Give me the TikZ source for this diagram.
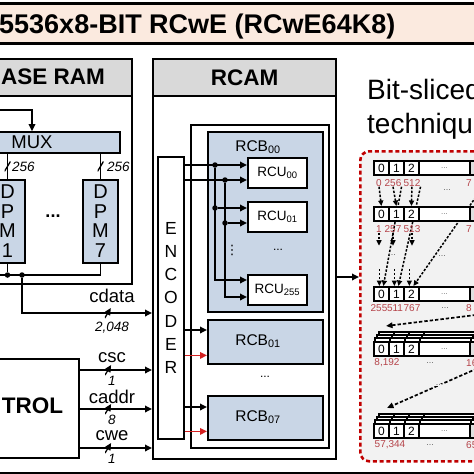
\documentclass[tikz,border=0pt]{standalone}
\usepackage{fontspec}
\setmainfont{Liberation Sans}
\newfontfamily\symfont{DejaVu Sans}
\usetikzlibrary{arrows.meta, positioning, calc}

\definecolor{titlepeach}{HTML}{FBEADF}
\definecolor{hdrgray}{HTML}{D9D9D9}
\definecolor{boxblue}{HTML}{C9D6E6}
\definecolor{slicered}{HTML}{C00000}
\definecolor{addrred}{HTML}{B5444A}
\definecolor{slicebg}{HTML}{F2F2F2}
\definecolor{sigred}{HTML}{D42020}

\newcommand{\fsz}[1]{\fontsize{#1}{#1}\selectfont}

\begin{document}
\begin{tikzpicture}[x=1pt, y=-1pt,
    frame/.style={draw, line width=3pt, inner sep=0pt},
    unitbox/.style={draw, line width=2.4pt, fill=white, inner sep=0pt},
    hdr/.style={draw, line width=2.4pt, fill=hdrgray, inner sep=0pt, font=\fsz{22.5}\bfseries},
    blk/.style={draw, line width=1.6pt, fill=boxblue, inner sep=0pt},
    rcu/.style={draw, line width=1.8pt, fill=white, inner sep=0pt, minimum width=59pt, minimum height=30pt, anchor=north west, font=\fsz{13.5}},
    rcb/.style={blk, line width=2.4pt, minimum width=115pt, anchor=north west},
    stack/.style={align=center, font=\fontsize{20}{19.5}\selectfont, inner sep=0pt},
    wire/.style={line width=1.7pt},
    sig/.style={wire, -{Triangle[length=7pt, width=6.5pt]}},
    dot/.style={circle, fill, inner sep=0pt, minimum size=5.5pt},
    busmark/.style={inner sep=0pt, minimum width=6pt, minimum height=10pt, path picture={\draw[line width=1.3pt] (path picture bounding box.south west) -- (path picture bounding box.north east);}},
    sigtext/.style={font=\fsz{18.5}, inner sep=0pt},
    bitsz/.style={font=\fsz{13.5}\itshape, inner sep=0pt},
    cell/.style={draw, line width=1.8pt, fill=white, inner sep=0pt, minimum width=15pt, minimum height=14pt, anchor=north west, font=\fsz{12}},
    layer/.style={draw, line width=1.4pt, fill=white},
    addr/.style={text=addrred, font=\fsz{10}, inner sep=0pt},
    slarr/.style={line width=1.5pt, dash pattern=on 2.4pt off 1.6pt, -{Triangle[length=5.5pt, width=5pt]}},
    farr/.style={line width=1.7pt, dash pattern=on 3.4pt off 2pt, -{Triangle[length=6.5pt, width=5.5pt]}},
    gdots/.style={text=black!60, font=\fsz{9}, inner sep=0pt}
  ]
\useasboundingbox (0,0) rectangle (474,474);
\begin{scope}
\clip (0,0) rectangle (474,474);

% title strip and outer frame
\node[frame, fill=titlepeach, minimum width=500pt, minimum height=40pt, anchor=north west] (titlebar) at (-13,2) {};
\node[font=\fsz{27}\bfseries, anchor=base west, inner sep=0pt] (title) at (-1,33) {5536x8-BIT RCwE (RCwE64K8)};
\node[frame, minimum width=500pt, minimum height=470pt, anchor=north west] (outer) at (-13,2) {};

% base RAM
\node[unitbox, minimum width=190pt, minimum height=225pt, anchor=north east] (baseram) at (133,58) {};
\node[hdr, minimum width=190pt, minimum height=37pt, anchor=north east] (basehdr) at (133,58) {};
\node[font=\fsz{22.5}\bfseries, inner sep=0pt] (basettl) at (53,77) {ASE RAM};
\node[blk, minimum width=176pt, minimum height=21pt, font=\fsz{18.5}] (mux) at (32,142.5) {MUX};
\node[blk, stack, minimum width=35pt, minimum height=83pt, anchor=north] (dpm1) at (7.5,179) {D\\P\\M\\1};
\node[blk, stack, minimum width=35pt, minimum height=83pt, anchor=north] (dpm7) at (100.5,179) {D\\P\\M\\7};
\node[font=\fsz{18}\bfseries, inner sep=0pt] (dpmdots) at (53,216) {...};

\coordinate (muxsrc) at (-13,110);
\draw[sig] (muxsrc) -| (mux.north);
\draw[wire] (mux.south -| dpm1) -- node[busmark] (bm1) {} (dpm1.north);
\draw[wire] (mux.south -| dpm7) -- node[busmark] (bm7) {} (dpm7.north);
\node[bitsz, anchor=west] (w1) at (12,167) {256};
\node[bitsz, anchor=west] (w7) at (107,167) {256};

\node[dot] (j1) at (7.5,275) {};
\node[dot] (j2) at (22,275) {};
\coordinate (busw) at (-13,275);
\draw[wire] (dpm1.south) -- (j1);
\draw[wire] (dpm7.south) |- (busw);
\coordinate (cdin) at (152,313);
\draw[sig] (j2) |- node[busmark, pos=0.83] (bmcd) {} (cdin);
\node[sigtext] (cdlbl) at (112,296) {cdata};
\node[bitsz] (cdw) at (112,328) {2,048};

% control
\node[unitbox, minimum width=100pt, minimum height=99pt, anchor=north east] (ctrl) at (80,358) {};
\node[font=\fsz{22.5}\bfseries, inner sep=0pt] (ctrlttl) at (32.5,405.5) {TROL};
\foreach \nm/\yy/\bits in {csc/370/1, caddr/409/8, cwe/448/1} {
  \coordinate (\nm src) at (80,\yy);
  \coordinate (\nm dst) at (152,\yy);
  \draw[sig] (\nm src) -- node[busmark, pos=0.39] {} (\nm dst);
  \node[sigtext] (\nm lbl) at (112,\yy-12.5) {\nm};
  \node[bitsz] (\nm w) at (112,\yy+10.5) {\bits};
}

% RCAM
\node[unitbox, minimum width=183pt, minimum height=400pt, anchor=north west] (rcam) at (152,58) {};
\node[hdr, minimum width=183pt, minimum height=37pt, anchor=north west] (rcamhdr) at (152,58) {RCAM};
\node[unitbox, minimum width=138pt, minimum height=323pt, anchor=north west] (rcbarr) at (190,124) {};
\node[draw, line width=1.8pt, fill=white, inner sep=0pt, minimum width=26pt, minimum height=282pt, anchor=north west, align=center, font=\fontsize{17.5}{23.2}\selectfont] (enc) at (157,156) {E\\N\\C\\O\\D\\E\\R};

\node[rcb, minimum height=180pt] (rcb0) at (207,131) {};
\node[font=\fsz{15.5}, inner sep=0pt] (rcb0ttl) at (258,147) {RCB\textsubscript{00}};
\node[rcu] (rcu0) at (247,157) {RCU\textsubscript{00}};
\node[rcu] (rcu1) at (247,201) {RCU\textsubscript{01}};
\node[rcu] (rcu255) at (247,274) {RCU\textsubscript{255}};
\node[font=\fsz{12}, inner sep=0pt] (rcudots) at (278,250) {...};
\node[font=\symfont\fsz{13}, inner sep=0pt] (rcuvdots) at (232,250) {⋮};

\node[rcb, minimum height=44pt] (rcb1) at (207,319) {};
\node[font=\fsz{15.5}, inner sep=0pt] (rcb1ttl) at (258,341) {RCB\textsubscript{01}};
\node[rcb, minimum height=44pt] (rcb7) at (207,395) {};
\node[font=\fsz{15.5}, inner sep=0pt] (rcb7ttl) at (258,417) {RCB\textsubscript{07}};
\node[font=\fsz{12}, inner sep=0pt] (rcbdots) at (265,377) {...};

% encoder to RCUs
\node[dot] (ta0) at (215,165) {};
\node[dot] (tb0) at (225,180) {};
\node[dot] (ta1) at (215,208) {};
\node[dot] (tb1) at (225,223) {};
\coordinate (ta2) at (215,280);
\coordinate (tb2) at (225,297);
\draw[sig] (enc.east |- ta0) -- (rcu0.west |- ta0);
\draw[sig] (enc.east |- tb0) -- (rcu0.west |- tb0);
\draw[sig] (ta1) -- (rcu1.west |- ta1);
\draw[sig] (tb1) -- (rcu1.west |- tb1);
\draw[sig] (ta0) |- (rcu255.west |- ta2);
\draw[sig] (tb0) |- (rcu255.west |- tb2);

% encoder to RCBs
\coordinate (k1) at ($(rcb1.north west)+(0,11)$);
\coordinate (r1) at ($(rcb1.south west)+(0,-10)$);
\coordinate (k7) at ($(rcb7.north west)+(0,12)$);
\coordinate (r7) at ($(rcb7.south west)+(0,-10)$);
\draw[sig] (enc.east |- k1) -- (k1);
\draw[sig, sigred] (enc.east |- r1) -- (r1);
\draw[sig] (enc.east |- k7) -- (k7);
\draw[sig, sigred] (enc.east |- r7) -- (r7);

% bit-sliced panel
\node[draw=slicered, fill=slicebg, line width=2.6pt, dash pattern=on 4pt off 2.8pt, rounded corners=9pt, minimum width=150pt, minimum height=310pt, anchor=north west] (slicebox) at (359,150) {};
\coordinate (rcamout) at (335,277);
\draw[sig] (rcamout) -- (slicebox.west |- rcamout);
\node[font=\fsz{28}, inner sep=0pt, anchor=base west] (bsttl) at (367,99) {Bit-sliced};
\node[font=\fsz{28}, inner sep=0pt, anchor=base west] (bsttl2) at (367,133) {technique};

\foreach \rw/\y in {D/341,E/423} {
  \foreach \k in {3,2,1} {
    \foreach \cx/\cw in {373/15,388/15,403/15,418/51,469/26} {
      \draw[layer] (\cx+2*\k,\y-3*\k) rectangle ++(\cw,14);
    }
  }
}
\foreach \rw/\y in {A/160,C/286,D/341,E/423} {
  \node[cell] (\rw0) at (373,\y) {0};
  \node[cell] (\rw1) at (388,\y) {1};
  \node[cell] (\rw2) at (403,\y) {2};
  \node[cell, minimum width=51pt] (\rw3) at (418,\y) {\textcolor{black!55}{\fsz{8}...}};
  \node[cell, minimum width=26pt, fill=black!12] (\rw4) at (469,\y) {};
}

\node[addr] (lA0) at (379,183) {0};
\node[addr] (lA1) at (393,183) {256};
\node[addr] (lA2) at (412,183) {512};
\node[addr, anchor=west] (lA4) at (466,183) {7};
\node[gdots] (gA3) at (447,190) {...};

\node[addr] (lC0) at (379,308) {255};
\node[addr] (lC1) at (395,308) {511};
\node[addr] (lC2) at (412,308) {767};
\node[gdots] (gC3) at (445,308) {...};
\node[addr, anchor=west] (lC4) at (466,308) {8};

\node[addr] (lD0) at (387,363) {8,192};
\node[gdots] (gD3) at (430,363) {...};
\node[addr, anchor=west] (lD4) at (466,363) {16};
\node[addr] (lE0) at (390,445) {57,344};
\node[gdots] (gE3) at (430,445) {...};
\node[addr, anchor=west] (lE4) at (466,445) {65};

% wrap-around lines, under row B
\coordinate (dC0) at ($(C0.north)+(2,0)$);
\coordinate (dC1) at ($(C1.north)+(2,0)$);
\coordinate (dC2) at ($(C2.north)+(2,0)$);
\coordinate (dA4) at (492,174);
\draw[slarr] (lA1.south east) -- (dC0);
\draw[slarr] (lA2.south east) -- (dC1);
\draw[slarr] (dA4) -- (dC2);

\node[cell] (B0) at (373,206) {0};
\node[cell] (B1) at (388,206) {1};
\node[cell] (B2) at (403,206) {2};
\node[cell, minimum width=51pt] (B3) at (418,206) {\textcolor{black!55}{\fsz{8}...}};
\node[cell, minimum width=26pt, fill=black!12] (B4) at (469,206) {};
\node[addr] (lB0) at (379,229) {1};
\node[addr] (lB1) at (393,229) {257};
\node[addr] (lB2) at (412,229) {513};
\node[addr, anchor=west] (lB4) at (466,229) {7};
\node[gdots] (gB1) at (392,255) {...};
\node[gdots] (gB3) at (442,256) {...};

\foreach \c in {0,1,2} {
  \draw[slarr] (lA\c.south) -- (B\c.north);
  \coordinate (mB\c) at ($(lB\c.south)+(0,13)$);
  \draw[slarr] (lB\c.south) -- (mB\c);
  \coordinate (tC\c) at ($(C\c.north)+(-2,0)$);
  \coordinate (mC\c) at ($(C\c.north)+(-2,-17)$);
  \draw[slarr] (mC\c) -- (tC\c);
}

% between slices
\coordinate (cdsrc) at (492,313);
\coordinate (dtop) at (386,326);
\draw[farr] (cdsrc) -- (dtop);
\coordinate (desrc) at (492,362);
\coordinate (etop) at (387,408);
\draw[farr] (desrc) -- node[gdots, fill=slicebg, inner sep=1pt] (gDE) {...} (etop);

\end{scope}
\end{tikzpicture}
\end{document}
